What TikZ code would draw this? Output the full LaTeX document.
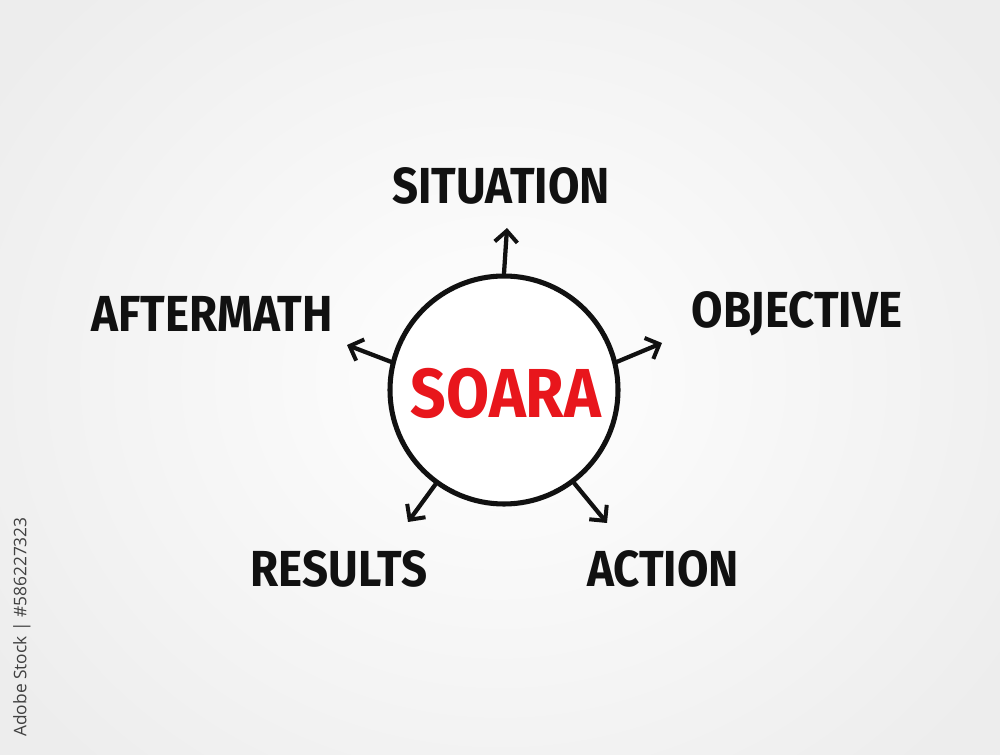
\documentclass[tikz,border=0pt]{standalone}
\usepackage{fontspec}
\newfontfamily\hand[FakeStretch=0.9]{Fira Sans}
\newfontfamily\wmfont{Open Sans}
\usetikzlibrary{arrows.meta}
\definecolor{soared}{HTML}{E8161C}
\definecolor{ink}{HTML}{111111}
\tikzset{
  lbl/.style={font=\hand\bfseries\fontsize{38}{40}\selectfont, text=ink, inner sep=0pt, anchor=center},
  hub/.style={circle, draw=ink, line width=3.8pt, minimum size=171pt, inner sep=0pt, fill=white},
  arr/.style={draw=ink, line width=3.2pt, line cap=round, -{Straight Barb[length=8.5pt,width=17pt,line width=3pt]}}
}
\begin{document}
\begin{tikzpicture}[x=0.75pt,y=-0.75pt]
\useasboundingbox (0,0) rectangle (1000,755);
\begin{scope}
\clip (0,0) rectangle (1000,755);
\shade[inner color=white, outer color=black!7] (-100,-150) rectangle (1100,905);
\end{scope}
\node[hub] (c) at (504,390) {};
\node[font=\hand\bfseries\fontsize{52}{54}\selectfont, text=soared, inner sep=0pt] (t) at (506,393) {SOARA};
\coordinate (eS) at (507,228);
\coordinate (eO) at (662,343);
\coordinate (eA) at (607,523);
\coordinate (eR) at (408,522);
\coordinate (eF) at (347,345);
\draw[arr] (c.90) -- (eS);
\draw[arr] (c.14) -- (eO);
\draw[arr] (c.307) -- (eA);
\draw[arr] (c.234) -- (eR);
\draw[arr] (c.166) -- (eF);
\node[lbl] (S) at (501,186) {SITUATION};
\node[lbl] (O) at (797,314) {OBJECTIVE};
\node[lbl] (A) at (663,569) {ACTION};
\node[lbl] (R) at (339,569) {RESULTS};
\node[lbl] (F) at (212,314) {AFTERMATH};
\node[font=\wmfont\fontsize{13}{14}\selectfont, text=black!75, rotate=90, inner sep=0pt] (wm) at (22,627) {Adobe Stock | \#586227323};
\end{tikzpicture}
\end{document}
